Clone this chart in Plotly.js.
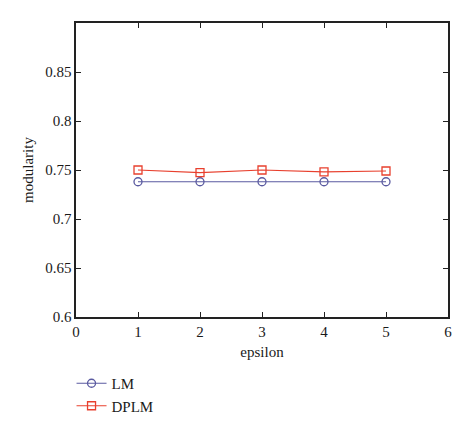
<!DOCTYPE html>
<html><head><meta charset="utf-8">
<script src="https://cdn.plot.ly/plotly-3.0.1.min.js"></script>
<style>body{margin:0;background:#fff}#c{width:474px;height:430px}</style>
</head><body><div id="c"></div>
<script>
const epsilon = [1, 2, 3, 4, 5];
const lmValues = [0.738, 0.738, 0.738, 0.738, 0.738];
const dplmValues = [0.750, 0.7473, 0.750, 0.748, 0.749];
const xTicks = [0, 1, 2, 3, 4, 5, 6];
const yTicks = [0.6, 0.65, 0.7, 0.75, 0.8, 0.85];
const yTickText = ['0.6', '0.65', '0.7', '0.75', '0.8', '0.85'];

const font = {family: '"Liberation Serif", "Times New Roman", serif', color: '#1a1a1a', size: 15};
const traces = [
  {x: epsilon, y: lmValues, name: 'LM', mode: 'lines+markers', type: 'scatter',
   line: {color: '#5a5aa0', width: 1.2},
   marker: {symbol: 'circle-open', size: 8, color: '#5a5aa0', line: {width: 1.3}}},
  {x: epsilon, y: dplmValues, name: 'DPLM', mode: 'lines+markers', type: 'scatter',
   line: {color: '#e8402e', width: 1.2},
   marker: {symbol: 'square-open', size: 8, color: '#e8402e', line: {width: 1.3}}}
];
const axisCommon = {showgrid: false, zeroline: false, showline: true, mirror: 'ticks',
  linecolor: '#222', linewidth: 1.6, ticks: 'inside', ticklen: 5, tickcolor: '#222', tickwidth: 1,
  tickfont: font};
const layout = {
  width: 474, height: 430,
  margin: {l: 76, r: 26, t: 23, b: 113, autoexpand: false},
  paper_bgcolor: '#fff', plot_bgcolor: '#fff',
  font: font,
  showlegend: true,
  legend: {x: -0.012, y: -0.17, xanchor: 'left', yanchor: 'top', orientation: 'v',
    font: {family: font.family, size: 15, color: '#1a1a1a'}, tracegroupgap: 0, itemwidth: 30},
  xaxis: Object.assign({}, axisCommon, {range: [0, 6], tickvals: xTicks, ticktext: xTicks.map(String),
    title: {text: 'epsilon', font: font, standoff: 8}}),
  yaxis: Object.assign({}, axisCommon, {range: [0.6, 0.9], tickvals: yTicks, ticktext: yTickText,
    title: {text: 'modularity', font: font, standoff: 8}})
};
Plotly.newPlot('c', traces, layout, {displayModeBar: false, staticPlot: true});
</script></body></html>
